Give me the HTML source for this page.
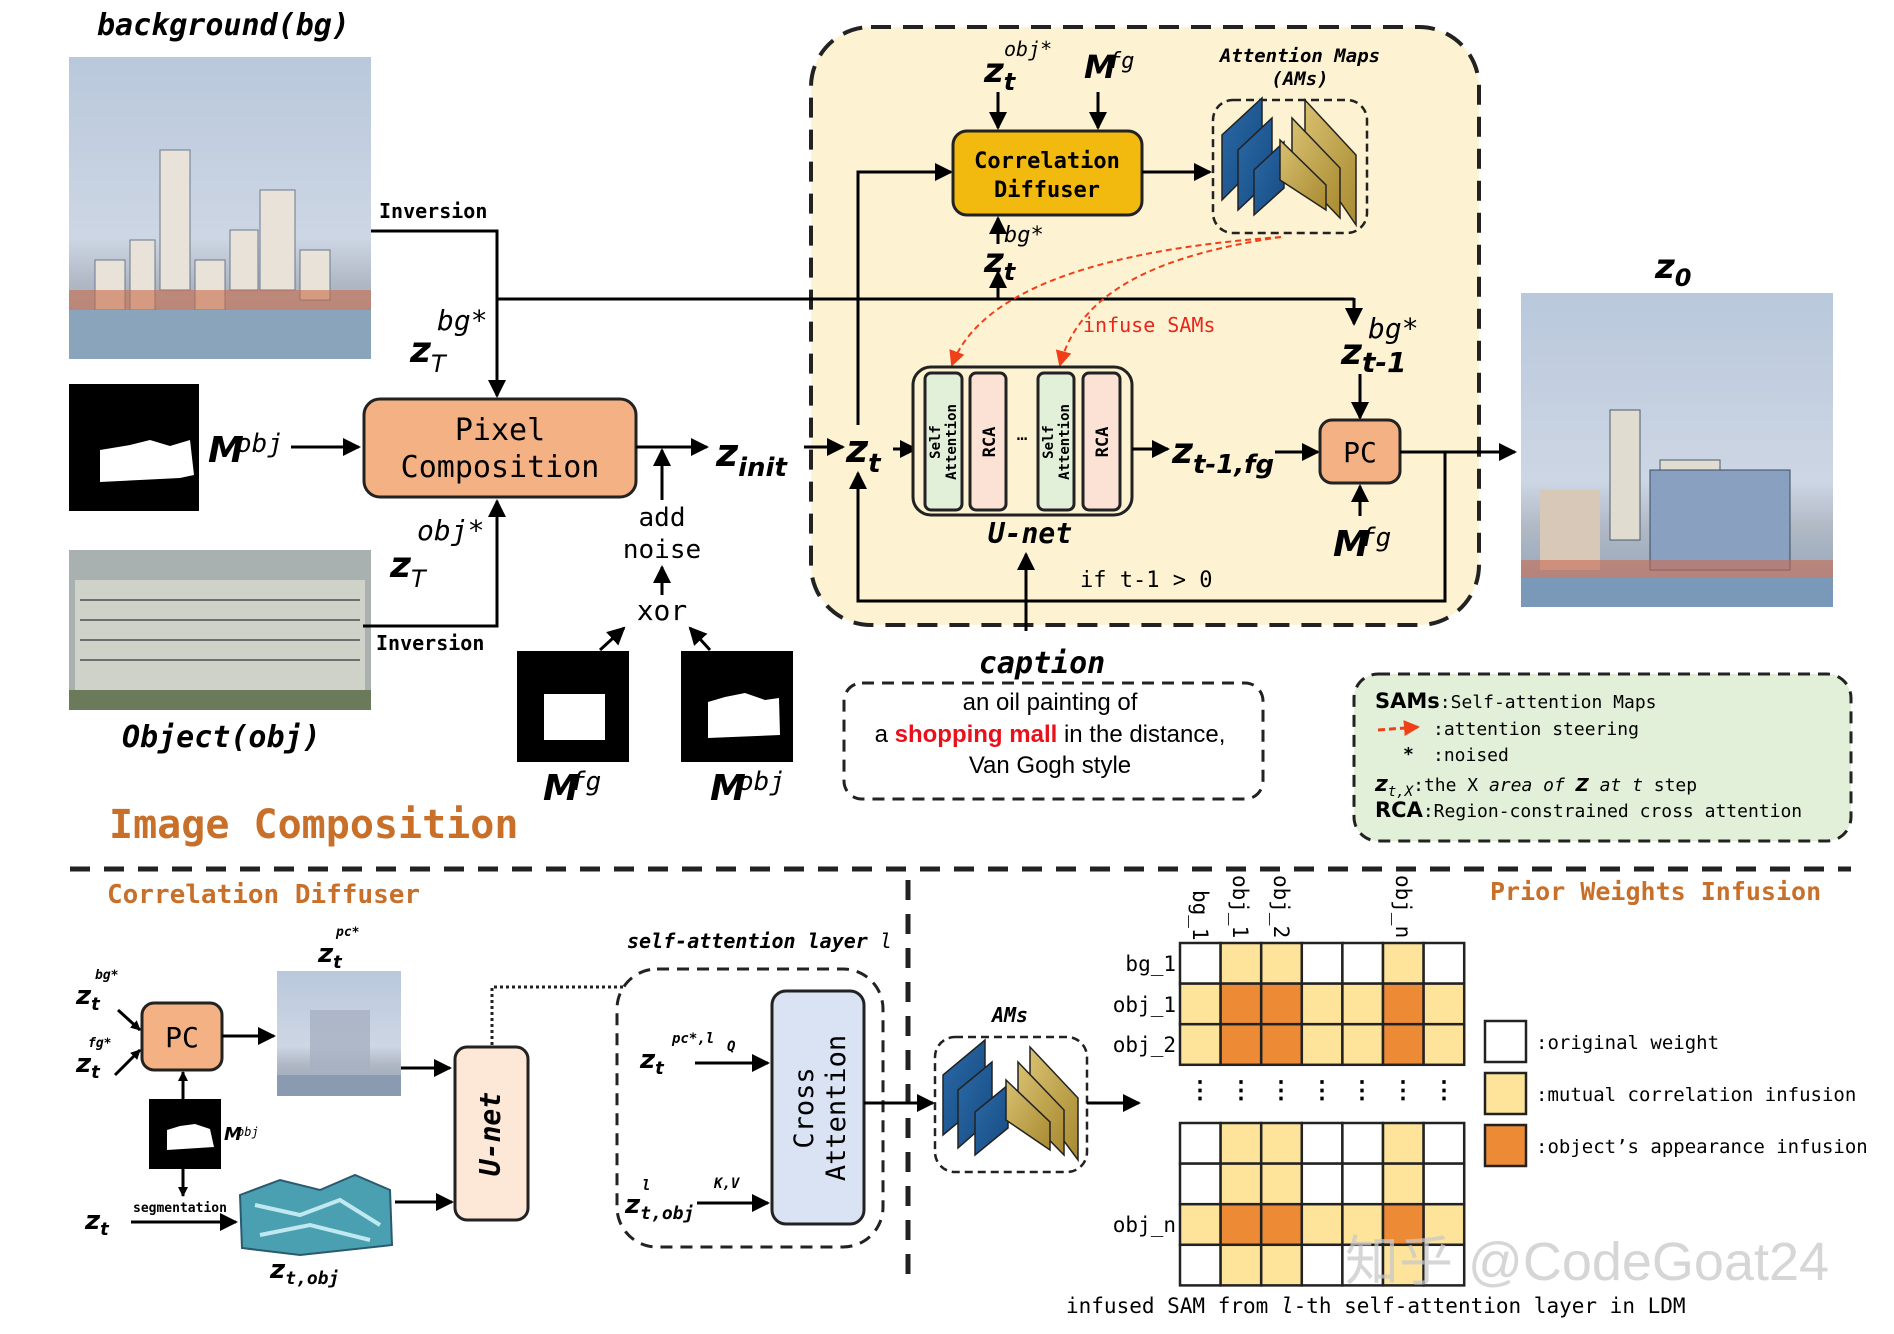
<!DOCTYPE html>
<html><head><meta charset="utf-8"><style>
html,body{margin:0;padding:0;background:#fff;}
svg{display:block;}
text{font-family:"DejaVu Sans Mono","Liberation Mono",monospace;}
.m{font-family:"DejaVu Sans","Liberation Sans",sans-serif;font-style:italic;font-weight:bold;}
.mi{font-family:"DejaVu Sans Mono","Liberation Mono",monospace;font-style:italic;}
.o{fill:#c8702a;font-weight:bold;}
</style></head><body>
<svg width="1894" height="1334" viewBox="0 0 1894 1334" xmlns="http://www.w3.org/2000/svg">
<defs>
<marker id="a" markerWidth="10" markerHeight="10" refX="9" refY="5" orient="auto" markerUnits="userSpaceOnUse"><path d="M0,0 L10,5 L0,10 z" fill="#000"/></marker>
<marker id="A" markerWidth="18" markerHeight="18" refX="16" refY="9" orient="auto" markerUnits="userSpaceOnUse"><path d="M0,0 L18,9 L0,18 z" fill="#000"/></marker>
<marker id="r" markerWidth="16" markerHeight="16" refX="14" refY="8" orient="auto" markerUnits="userSpaceOnUse"><path d="M0,0 L16,8 L0,16 z" fill="#f0401a"/></marker>
<linearGradient id="sky" x1="0" y1="0" x2="0" y2="1"><stop offset="0" stop-color="#b9c8dc"/><stop offset="0.6" stop-color="#cdd6e4"/><stop offset="0.75" stop-color="#b0b8c4"/><stop offset="1" stop-color="#8aa0b8"/></linearGradient>
<linearGradient id="blu" x1="0" y1="0" x2="1" y2="1"><stop offset="0" stop-color="#2a6aa8"/><stop offset="1" stop-color="#174a80"/></linearGradient>
<linearGradient id="gld" x1="0" y1="0" x2="1" y2="1"><stop offset="0" stop-color="#d8c070"/><stop offset="1" stop-color="#a88a30"/></linearGradient>
</defs>

<!-- top-left -->
<text x="97" y="35" font-size="30" class="mi" font-weight="bold">background(bg)</text>
<rect x="69" y="57" width="302" height="302" fill="url(#sky)"/>
<g fill="#e8e2d8" stroke="#6a7a90" stroke-width="1">
<rect x="160" y="150" width="30" height="140"/><rect x="230" y="230" width="28" height="60"/><rect x="260" y="190" width="35" height="100"/><rect x="300" y="250" width="30" height="50"/><rect x="95" y="260" width="30" height="50"/><rect x="130" y="240" width="25" height="70"/><rect x="195" y="260" width="30" height="50"/>
</g>
<rect x="69" y="290" width="302" height="20" fill="#c86a4a" opacity="0.6"/>
<rect x="69" y="310" width="302" height="49" fill="#8aa4bc"/>

<text x="379" y="218" font-size="20" font-weight="bold">Inversion</text>
<polyline points="371,231 497,231 497,396" fill="none" stroke="#000" stroke-width="3" marker-end="url(#A)"/>
<text x="410" y="362" font-size="36" class="m">z<tspan font-size="24" dy="10" font-weight="normal">T</tspan></text>
<text x="437" y="330" font-size="28" class="mi">bg*</text>

<rect x="69" y="384" width="130" height="127" fill="#000"/>
<path d="M100,450 L130,445 L150,440 L170,446 L190,440 L194,475 L180,478 L100,482 z" fill="#fff"/>
<text x="208" y="462" font-size="36" class="m">M</text><text x="236" y="452" font-size="26" class="mi">obj</text>
<line x1="291" y1="447" x2="359" y2="447" stroke="#000" stroke-width="3" marker-end="url(#A)"/>

<rect x="364" y="399" width="272" height="98" rx="16" fill="#f4b183" stroke="#222" stroke-width="3"/>
<text x="500" y="440" font-size="30" text-anchor="middle">Pixel</text>
<text x="500" y="477" font-size="30" text-anchor="middle">Composition</text>

<rect x="69" y="550" width="302" height="160" fill="#a8b0b0"/>
<rect x="75" y="580" width="290" height="110" fill="#cfd2c8"/>
<g stroke="#6a7070" stroke-width="2"><line x1="80" y1="600" x2="360" y2="600"/><line x1="80" y1="620" x2="360" y2="620"/><line x1="80" y1="640" x2="360" y2="640"/><line x1="80" y1="660" x2="360" y2="660"/></g>
<rect x="69" y="690" width="302" height="20" fill="#6a7a5a"/>
<text x="122" y="747" font-size="30" class="mi" font-weight="bold">Object(obj)</text>
<text x="376" y="650" font-size="20" font-weight="bold">Inversion</text>
<polyline points="363,626 497,626 497,501" fill="none" stroke="#000" stroke-width="3" marker-end="url(#A)"/>
<text x="390" y="577" font-size="36" class="m">z<tspan font-size="24" dy="10" font-weight="normal">T</tspan></text>
<text x="417" y="540" font-size="28" class="mi">obj*</text>

<line x1="636" y1="447" x2="707" y2="447" stroke="#000" stroke-width="3" marker-end="url(#A)"/>
<line x1="662" y1="500" x2="662" y2="450" stroke="#000" stroke-width="3" marker-end="url(#A)"/>
<text x="662" y="526" font-size="26" text-anchor="middle">add</text>
<text x="662" y="558" font-size="26" text-anchor="middle">noise</text>
<line x1="662" y1="595" x2="662" y2="567" stroke="#000" stroke-width="3" marker-end="url(#A)"/>
<text x="662" y="620" font-size="28" text-anchor="middle">xor</text>
<line x1="600" y1="650" x2="624" y2="628" stroke="#000" stroke-width="3" marker-end="url(#A)"/>
<line x1="710" y1="650" x2="690" y2="628" stroke="#000" stroke-width="3" marker-end="url(#A)"/>
<rect x="517" y="651" width="112" height="111" fill="#000"/><rect x="544" y="694" width="61" height="46" fill="#fff"/>
<rect x="681" y="651" width="112" height="111" fill="#000"/>
<path d="M708,702 L725,697 L745,693 L765,700 L779,698 L780,735 L708,738 z" fill="#fff"/>
<text x="543" y="800" font-size="36" class="m">M</text><text x="570" y="790" font-size="26" class="mi">fg</text>
<text x="710" y="800" font-size="36" class="m">M</text><text x="738" y="790" font-size="26" class="mi">obj</text>
<text x="716" y="466" font-size="38" class="m">z<tspan font-size="26" dy="10">init</tspan></text>

<text x="109" y="838" font-size="40" class="o">Image Composition</text>

<!-- yellow region -->
<rect x="811" y="27" width="668" height="598" rx="60" fill="#fdf2d2" stroke="#222" stroke-width="4" stroke-dasharray="20,12"/>
<line x1="497" y1="299" x2="1354" y2="299" stroke="#000" stroke-width="3"/>
<line x1="1354" y1="298" x2="1354" y2="324" stroke="#000" stroke-width="3" marker-end="url(#A)"/>
<line x1="804" y1="447" x2="843" y2="447" stroke="#000" stroke-width="3" marker-end="url(#A)"/>
<text x="846" y="462" font-size="38" class="m">z<tspan font-size="26" dy="10">t</tspan></text>
<line x1="893" y1="449" x2="916" y2="449" stroke="#000" stroke-width="3" marker-end="url(#A)"/>
<polyline points="858,425 858,172 951,172" fill="none" stroke="#000" stroke-width="3" marker-end="url(#A)"/>

<rect x="953" y="131" width="189" height="84" rx="14" fill="#f2b90f" stroke="#222" stroke-width="3"/>
<text x="1047" y="168" font-size="22" text-anchor="middle" font-weight="bold">Correlation</text>
<text x="1047" y="197" font-size="22" text-anchor="middle" font-weight="bold">Diffuser</text>
<text x="984" y="82" font-size="34" class="m">z<tspan font-size="24" dy="8">t</tspan></text>
<text x="1004" y="56" font-size="20" class="mi">obj*</text>
<line x1="998" y1="92" x2="998" y2="128" stroke="#000" stroke-width="3" marker-end="url(#A)"/>
<text x="1084" y="78" font-size="32" class="m">M</text><text x="1108" y="68" font-size="22" class="mi">fg</text>
<line x1="1098" y1="92" x2="1098" y2="128" stroke="#000" stroke-width="3" marker-end="url(#A)"/>
<line x1="998" y1="244" x2="998" y2="218" stroke="#000" stroke-width="3" marker-end="url(#A)"/>
<text x="1004" y="242" font-size="22" class="mi">bg*</text>
<text x="984" y="272" font-size="34" class="m">z<tspan font-size="24" dy="8">t</tspan></text>
<line x1="998" y1="299" x2="998" y2="272" stroke="#000" stroke-width="3" marker-end="url(#A)"/>
<line x1="1142" y1="172" x2="1210" y2="172" stroke="#000" stroke-width="3" marker-end="url(#A)"/>
<text x="1300" y="62" font-size="19" text-anchor="middle" class="mi" font-weight="bold">Attention Maps</text>
<text x="1300" y="85" font-size="19" text-anchor="middle" class="mi" font-weight="bold">(AMs)</text>
<rect x="1213" y="100" width="154" height="133" rx="20" fill="none" stroke="#222" stroke-width="2.5" stroke-dasharray="8,5"/>
<g stroke="#222" stroke-width="1.5">
<path d="M1222,200 L1222,135 L1262,98 L1262,160 z" fill="url(#blu)"/>
<path d="M1238,210 L1238,150 L1272,118 L1272,178 z" fill="url(#blu)"/>
<path d="M1254,215 L1254,170 L1284,142 L1284,188 z" fill="url(#blu)"/>
<path d="M1305,150 L1305,100 L1356,155 L1356,225 z" fill="url(#gld)"/>
<path d="M1292,168 L1292,118 L1340,168 L1340,218 z" fill="url(#gld)"/>
<path d="M1280,180 L1280,140 L1326,185 L1326,210 z" fill="url(#gld)"/>
</g>
<path d="M1281,237 C1100,250 980,290 952,365" fill="none" stroke="#f0401a" stroke-width="2" stroke-dasharray="6,4" marker-end="url(#r)"/>
<path d="M1281,237 C1160,255 1080,290 1060,365" fill="none" stroke="#f0401a" stroke-width="2" stroke-dasharray="6,4" marker-end="url(#r)"/>
<text x="1083" y="332" font-size="20" fill="#e8261a">infuse SAMs</text>

<rect x="913" y="367" width="219" height="148" rx="18" fill="#fdf2d2" stroke="#222" stroke-width="3"/>
<rect x="925" y="373" width="37" height="137" rx="6" fill="#e2efd9" stroke="#222" stroke-width="3"/>
<rect x="970" y="373" width="36" height="137" rx="6" fill="#fbe2d5" stroke="#222" stroke-width="3"/>
<rect x="1038" y="373" width="36" height="137" rx="6" fill="#e2efd9" stroke="#222" stroke-width="3"/>
<rect x="1083" y="373" width="37" height="137" rx="6" fill="#fbe2d5" stroke="#222" stroke-width="3"/>
<g font-size="14" font-weight="bold" text-anchor="middle">
<text transform="translate(943,442) rotate(-90)"><tspan x="0" dy="-3">Self</tspan><tspan x="0" dy="16">Attention</tspan></text>
<text transform="translate(995,442) rotate(-90)" font-size="17">RCA</text>
<text transform="translate(1056,442) rotate(-90)"><tspan x="0" dy="-3">Self</tspan><tspan x="0" dy="16">Attention</tspan></text>
<text transform="translate(1108,442) rotate(-90)" font-size="17">RCA</text>
</g>
<text x="1022" y="440" font-size="18" text-anchor="middle">…</text>
<text x="1030" y="543" font-size="28" text-anchor="middle" class="mi" font-weight="bold">U-net</text>
<line x1="1132" y1="449" x2="1168" y2="449" stroke="#000" stroke-width="3" marker-end="url(#A)"/>
<text x="1172" y="463" font-size="36" class="m">z<tspan font-size="26" dy="10">t-1,fg</tspan></text>
<line x1="1275" y1="452" x2="1318" y2="452" stroke="#000" stroke-width="3" marker-end="url(#A)"/>
<text x="1368" y="338" font-size="28" class="mi">bg*</text>
<text x="1341" y="364" font-size="36" class="m">z<tspan font-size="28" dy="8">t-1</tspan></text>
<line x1="1360" y1="374" x2="1360" y2="418" stroke="#000" stroke-width="3" marker-end="url(#A)"/>
<rect x="1320" y="420" width="80" height="63" rx="12" fill="#f4b183" stroke="#222" stroke-width="3"/>
<text x="1360" y="462" font-size="28" text-anchor="middle">PC</text>
<line x1="1360" y1="516" x2="1360" y2="486" stroke="#000" stroke-width="3" marker-end="url(#A)"/>
<text x="1333" y="556" font-size="36" class="m">M</text><text x="1360" y="546" font-size="26" class="mi">fg</text>
<polyline points="1400,452 1515,452" fill="none" stroke="#000" stroke-width="3" marker-end="url(#A)"/>
<polyline points="1445,452 1445,601 858,601 858,473" fill="none" stroke="#000" stroke-width="3" marker-end="url(#A)"/>
<text x="1080" y="587" font-size="22">if t-1 &gt; 0</text>
<line x1="1026" y1="631" x2="1026" y2="554" stroke="#000" stroke-width="3" marker-end="url(#A)"/>

<text x="1655" y="278" font-size="34" class="m">z<tspan font-size="24" dy="8">0</tspan></text>
<rect x="1521" y="293" width="312" height="314" fill="url(#sky)"/>
<g fill="#e0dcd0" stroke="#4a5a70" stroke-width="1">
<rect x="1610" y="410" width="30" height="130"/><rect x="1660" y="460" width="60" height="80"/>
</g>
<rect x="1650" y="470" width="140" height="100" fill="#8aa0c0" stroke="#3a4a60"/>
<rect x="1540" y="490" width="60" height="80" fill="#d8c8b8"/>
<rect x="1521" y="560" width="312" height="18" fill="#c86a50" opacity="0.6"/>
<rect x="1521" y="578" width="312" height="29" fill="#7a98b8"/>

<text x="1042" y="673" font-size="30" text-anchor="middle" class="mi" font-weight="bold">caption</text>
<rect x="844" y="683" width="419" height="116" rx="18" fill="none" stroke="#222" stroke-width="3" stroke-dasharray="12,8"/>
<g font-size="24" text-anchor="middle">
<text x="1050" y="710" style="font-family:'Liberation Sans',sans-serif">an oil painting of</text>
<text x="1050" y="742" style="font-family:'Liberation Sans',sans-serif">a <tspan fill="#e8101a" font-weight="bold">shopping mall</tspan> in the distance,</text>
<text x="1050" y="773" style="font-family:'Liberation Sans',sans-serif">Van Gogh style</text>
</g>

<rect x="1354" y="674" width="497" height="167" rx="24" fill="#e2efd9" stroke="#222" stroke-width="3" stroke-dasharray="12,8"/>
<g font-size="18">
<text x="1375" y="708"><tspan font-weight="bold" font-family="DejaVu Sans,sans-serif" font-size="21">SAMs</tspan>:Self-attention Maps</text>
<line x1="1378" y1="730" x2="1418" y2="727" stroke="#f0401a" stroke-width="3" stroke-dasharray="7,4" marker-end="url(#r)"/>
<text x="1433" y="735">:attention steering</text>
<text x="1403" y="760" font-weight="bold">*</text><text x="1433" y="761">:noised</text>
<text x="1375" y="791"><tspan class="m" font-size="22">z</tspan><tspan font-size="14" dy="5" font-style="italic">t,X</tspan><tspan dy="-5">:the X </tspan><tspan font-style="italic">area of </tspan><tspan class="m">Z</tspan><tspan font-style="italic"> at t</tspan> step</text>
<text x="1375" y="817"><tspan font-weight="bold" font-family="DejaVu Sans,sans-serif" font-size="21">RCA</tspan>:Region-constrained cross attention</text>
</g>

<!-- separators -->
<line x1="70" y1="869" x2="1851" y2="869" stroke="#222" stroke-width="5" stroke-dasharray="20,14"/>
<line x1="908" y1="880" x2="908" y2="1275" stroke="#222" stroke-width="5" stroke-dasharray="20,14"/>
<text x="107" y="903" font-size="26" class="o">Correlation Diffuser</text>
<text x="1490" y="900" font-size="25" class="o">Prior Weights Infusion</text>

<!-- bottom left -->
<text x="95" y="979" font-size="13" class="mi" font-weight="bold">bg*</text>
<text x="76" y="1004" font-size="26" class="m">z<tspan font-size="18" dy="6">t</tspan></text>
<text x="88" y="1047" font-size="13" class="mi" font-weight="bold">fg*</text>
<text x="76" y="1072" font-size="26" class="m">z<tspan font-size="18" dy="6">t</tspan></text>
<line x1="118" y1="1010" x2="140" y2="1030" stroke="#000" stroke-width="3" marker-end="url(#a)"/>
<line x1="115" y1="1075" x2="140" y2="1050" stroke="#000" stroke-width="3" marker-end="url(#a)"/>
<rect x="142" y="1003" width="80" height="67" rx="12" fill="#f4b183" stroke="#222" stroke-width="3"/>
<text x="182" y="1047" font-size="28" text-anchor="middle">PC</text>
<line x1="222" y1="1036" x2="274" y2="1036" stroke="#000" stroke-width="3" marker-end="url(#A)"/>
<text x="336" y="936" font-size="13" class="mi" font-weight="bold">pc*</text>
<text x="318" y="962" font-size="26" class="m">z<tspan font-size="18" dy="6">t</tspan></text>
<rect x="277" y="971" width="124" height="125" fill="url(#sky)"/>
<rect x="310" y="1010" width="60" height="60" fill="#a8b0c0" opacity="0.8"/>
<rect x="277" y="1075" width="124" height="21" fill="#8a9ab0"/>
<line x1="401" y1="1068" x2="450" y2="1068" stroke="#000" stroke-width="3" marker-end="url(#A)"/>
<line x1="183" y1="1099" x2="183" y2="1072" stroke="#000" stroke-width="3" marker-end="url(#a)"/>
<rect x="149" y="1099" width="72" height="70" fill="#000"/>
<path d="M167,1130 L180,1126 L195,1124 L210,1129 L214,1147 L167,1150 z" fill="#fff"/>
<text x="224" y="1140" font-size="18" class="m">M</text><text x="237" y="1136" font-size="12" class="mi">obj</text>
<line x1="183" y1="1169" x2="183" y2="1196" stroke="#000" stroke-width="3" marker-end="url(#a)"/>
<text x="133" y="1212" font-size="13" font-weight="bold">segmentation</text>
<text x="85" y="1229" font-size="26" class="m">z<tspan font-size="18" dy="6">t</tspan></text>
<line x1="131" y1="1222" x2="236" y2="1222" stroke="#000" stroke-width="3" marker-end="url(#A)"/>
<path d="M240,1195 L280,1180 L320,1190 L355,1175 L390,1190 L392,1245 L300,1255 L242,1248 z" fill="#4aa0b0" stroke="#2a5a70" stroke-width="2"/>
<path d="M255,1205 L300,1215 L340,1200 L380,1225 M260,1235 L310,1225 L370,1240" stroke="#c0e8f0" stroke-width="4" fill="none"/>
<text x="270" y="1278" font-size="26" class="m">z<tspan font-size="18" dy="6" class="mi">t,obj</tspan></text>
<line x1="395" y1="1202" x2="452" y2="1202" stroke="#000" stroke-width="3" marker-end="url(#A)"/>

<rect x="455" y="1047" width="73" height="173" rx="12" fill="#fde7d6" stroke="#222" stroke-width="3"/>
<text transform="translate(500,1134) rotate(-90)" font-size="28" text-anchor="middle" class="mi" font-weight="bold">U-net</text>
<polyline points="492,1045 492,987 625,987" fill="none" stroke="#222" stroke-width="3" stroke-dasharray="3,3"/>
<text x="627" y="948" font-size="20" class="mi" font-weight="bold">self-attention layer <tspan font-weight="normal">l</tspan></text>
<rect x="617" y="969" width="266" height="278" rx="40" fill="none" stroke="#222" stroke-width="3" stroke-dasharray="12,8"/>
<rect x="772" y="991" width="92" height="233" rx="14" fill="#dae3f3" stroke="#222" stroke-width="3"/>
<text transform="translate(818,1108) rotate(-90)" font-size="27" text-anchor="middle"><tspan x="0" dy="-5">Cross</tspan><tspan x="0" dy="32">Attention</tspan></text>
<text x="672" y="1043" font-size="14" class="mi" font-weight="bold">pc*,l</text>
<text x="640" y="1068" font-size="26" class="m">z<tspan font-size="18" dy="6">t</tspan></text>
<text x="727" y="1051" font-size="14" class="mi" font-weight="bold">Q</text>
<line x1="695" y1="1063" x2="768" y2="1063" stroke="#000" stroke-width="3" marker-end="url(#A)"/>
<text x="642" y="1190" font-size="14" class="mi" font-weight="bold">l</text>
<text x="625" y="1213" font-size="26" class="m">z<tspan font-size="18" dy="6" class="mi">t,obj</tspan></text>
<text x="714" y="1188" font-size="14" class="mi" font-weight="bold">K,V</text>
<line x1="697" y1="1203" x2="768" y2="1203" stroke="#000" stroke-width="3" marker-end="url(#A)"/>
<line x1="864" y1="1103" x2="933" y2="1103" stroke="#000" stroke-width="3" marker-end="url(#A)"/>

<text x="1010" y="1022" font-size="20" text-anchor="middle" class="mi" font-weight="bold">AMs</text>
<rect x="935" y="1037" width="152" height="135" rx="20" fill="none" stroke="#222" stroke-width="2.5" stroke-dasharray="8,5"/>
<g stroke="#222" stroke-width="1.5">
<path d="M943,1135 L943,1075 L985,1040 L985,1100 z" fill="url(#blu)"/>
<path d="M958,1148 L958,1090 L992,1062 L992,1118 z" fill="url(#blu)"/>
<path d="M975,1155 L975,1112 L1008,1085 L1008,1128 z" fill="url(#blu)"/>
<path d="M1030,1095 L1030,1047 L1078,1098 L1078,1160 z" fill="url(#gld)"/>
<path d="M1018,1108 L1018,1062 L1064,1110 L1064,1155 z" fill="url(#gld)"/>
<path d="M1006,1120 L1006,1080 L1050,1122 L1050,1150 z" fill="url(#gld)"/>
</g>
<line x1="1087" y1="1103" x2="1139" y2="1103" stroke="#000" stroke-width="3" marker-end="url(#A)"/>

<!-- grid -->
<g stroke="#222" stroke-width="2.5">
<g id="rowA">
<rect x="1180" y="943" width="40.6" height="40.6" fill="#fff"/><rect x="1220.6" y="943" width="40.6" height="40.6" fill="#fde49a"/><rect x="1261.2" y="943" width="40.6" height="40.6" fill="#fde49a"/><rect x="1301.8" y="943" width="40.6" height="40.6" fill="#fff"/><rect x="1342.4" y="943" width="40.6" height="40.6" fill="#fff"/><rect x="1383" y="943" width="40.6" height="40.6" fill="#fde49a"/><rect x="1423.6" y="943" width="40.6" height="40.6" fill="#fff"/>
</g>
<g id="rowB">
<rect x="1180" y="983.6" width="40.6" height="40.6" fill="#fde49a"/><rect x="1220.6" y="983.6" width="40.6" height="40.6" fill="#ec8a35"/><rect x="1261.2" y="983.6" width="40.6" height="40.6" fill="#ec8a35"/><rect x="1301.8" y="983.6" width="40.6" height="40.6" fill="#fde49a"/><rect x="1342.4" y="983.6" width="40.6" height="40.6" fill="#fde49a"/><rect x="1383" y="983.6" width="40.6" height="40.6" fill="#ec8a35"/><rect x="1423.6" y="983.6" width="40.6" height="40.6" fill="#fde49a"/>
</g>
<use href="#rowB" y="40.6"/>
<use href="#rowA" y="180"/>
<use href="#rowA" y="220.6"/>
<use href="#rowB" y="220.6"/>
<use href="#rowA" y="301.8"/>
</g>
<g font-size="21" text-anchor="end">
<text x="1176" y="971">bg_1</text><text x="1176" y="1012">obj_1</text><text x="1176" y="1052">obj_2</text><text x="1176" y="1232">obj_n</text>
</g>
<g font-size="21">
<text transform="translate(1193,890) rotate(90)">bg_1</text>
<text transform="translate(1233,875) rotate(90)">obj_1</text>
<text transform="translate(1274,875) rotate(90)">obj_2</text>
<text transform="translate(1396,875) rotate(90)">obj_n</text>
</g>
<g font-size="24" text-anchor="middle" font-weight="bold">
<text x="1200" y="1098">⋮</text><text x="1241" y="1098">⋮</text><text x="1281" y="1098">⋮</text><text x="1322" y="1098">⋮</text><text x="1362" y="1098">⋮</text><text x="1403" y="1098">⋮</text><text x="1444" y="1098">⋮</text>
</g>
<rect x="1485" y="1021" width="41" height="41" fill="#fff" stroke="#222" stroke-width="2.5"/>
<rect x="1485" y="1073" width="41" height="41" fill="#fde49a" stroke="#222" stroke-width="2.5"/>
<rect x="1485" y="1125" width="41" height="41" fill="#ec8a35" stroke="#222" stroke-width="2.5"/>
<g font-size="19">
<text x="1536" y="1049">:original weight</text>
<text x="1536" y="1101">:mutual correlation infusion</text>
<text x="1536" y="1153">:object’s appearance infusion</text>
</g>
<text x="1066" y="1313" font-size="21">infused SAM from <tspan font-style="italic">l</tspan>-th self-attention layer in LDM</text>
<text x="1345" y="1280" font-size="54" fill="#c8c8c8" fill-opacity="0.75" style="font-family:'Liberation Sans','Noto Sans CJK SC',sans-serif">知乎 @CodeGoat24</text>
</svg>
</body></html>
